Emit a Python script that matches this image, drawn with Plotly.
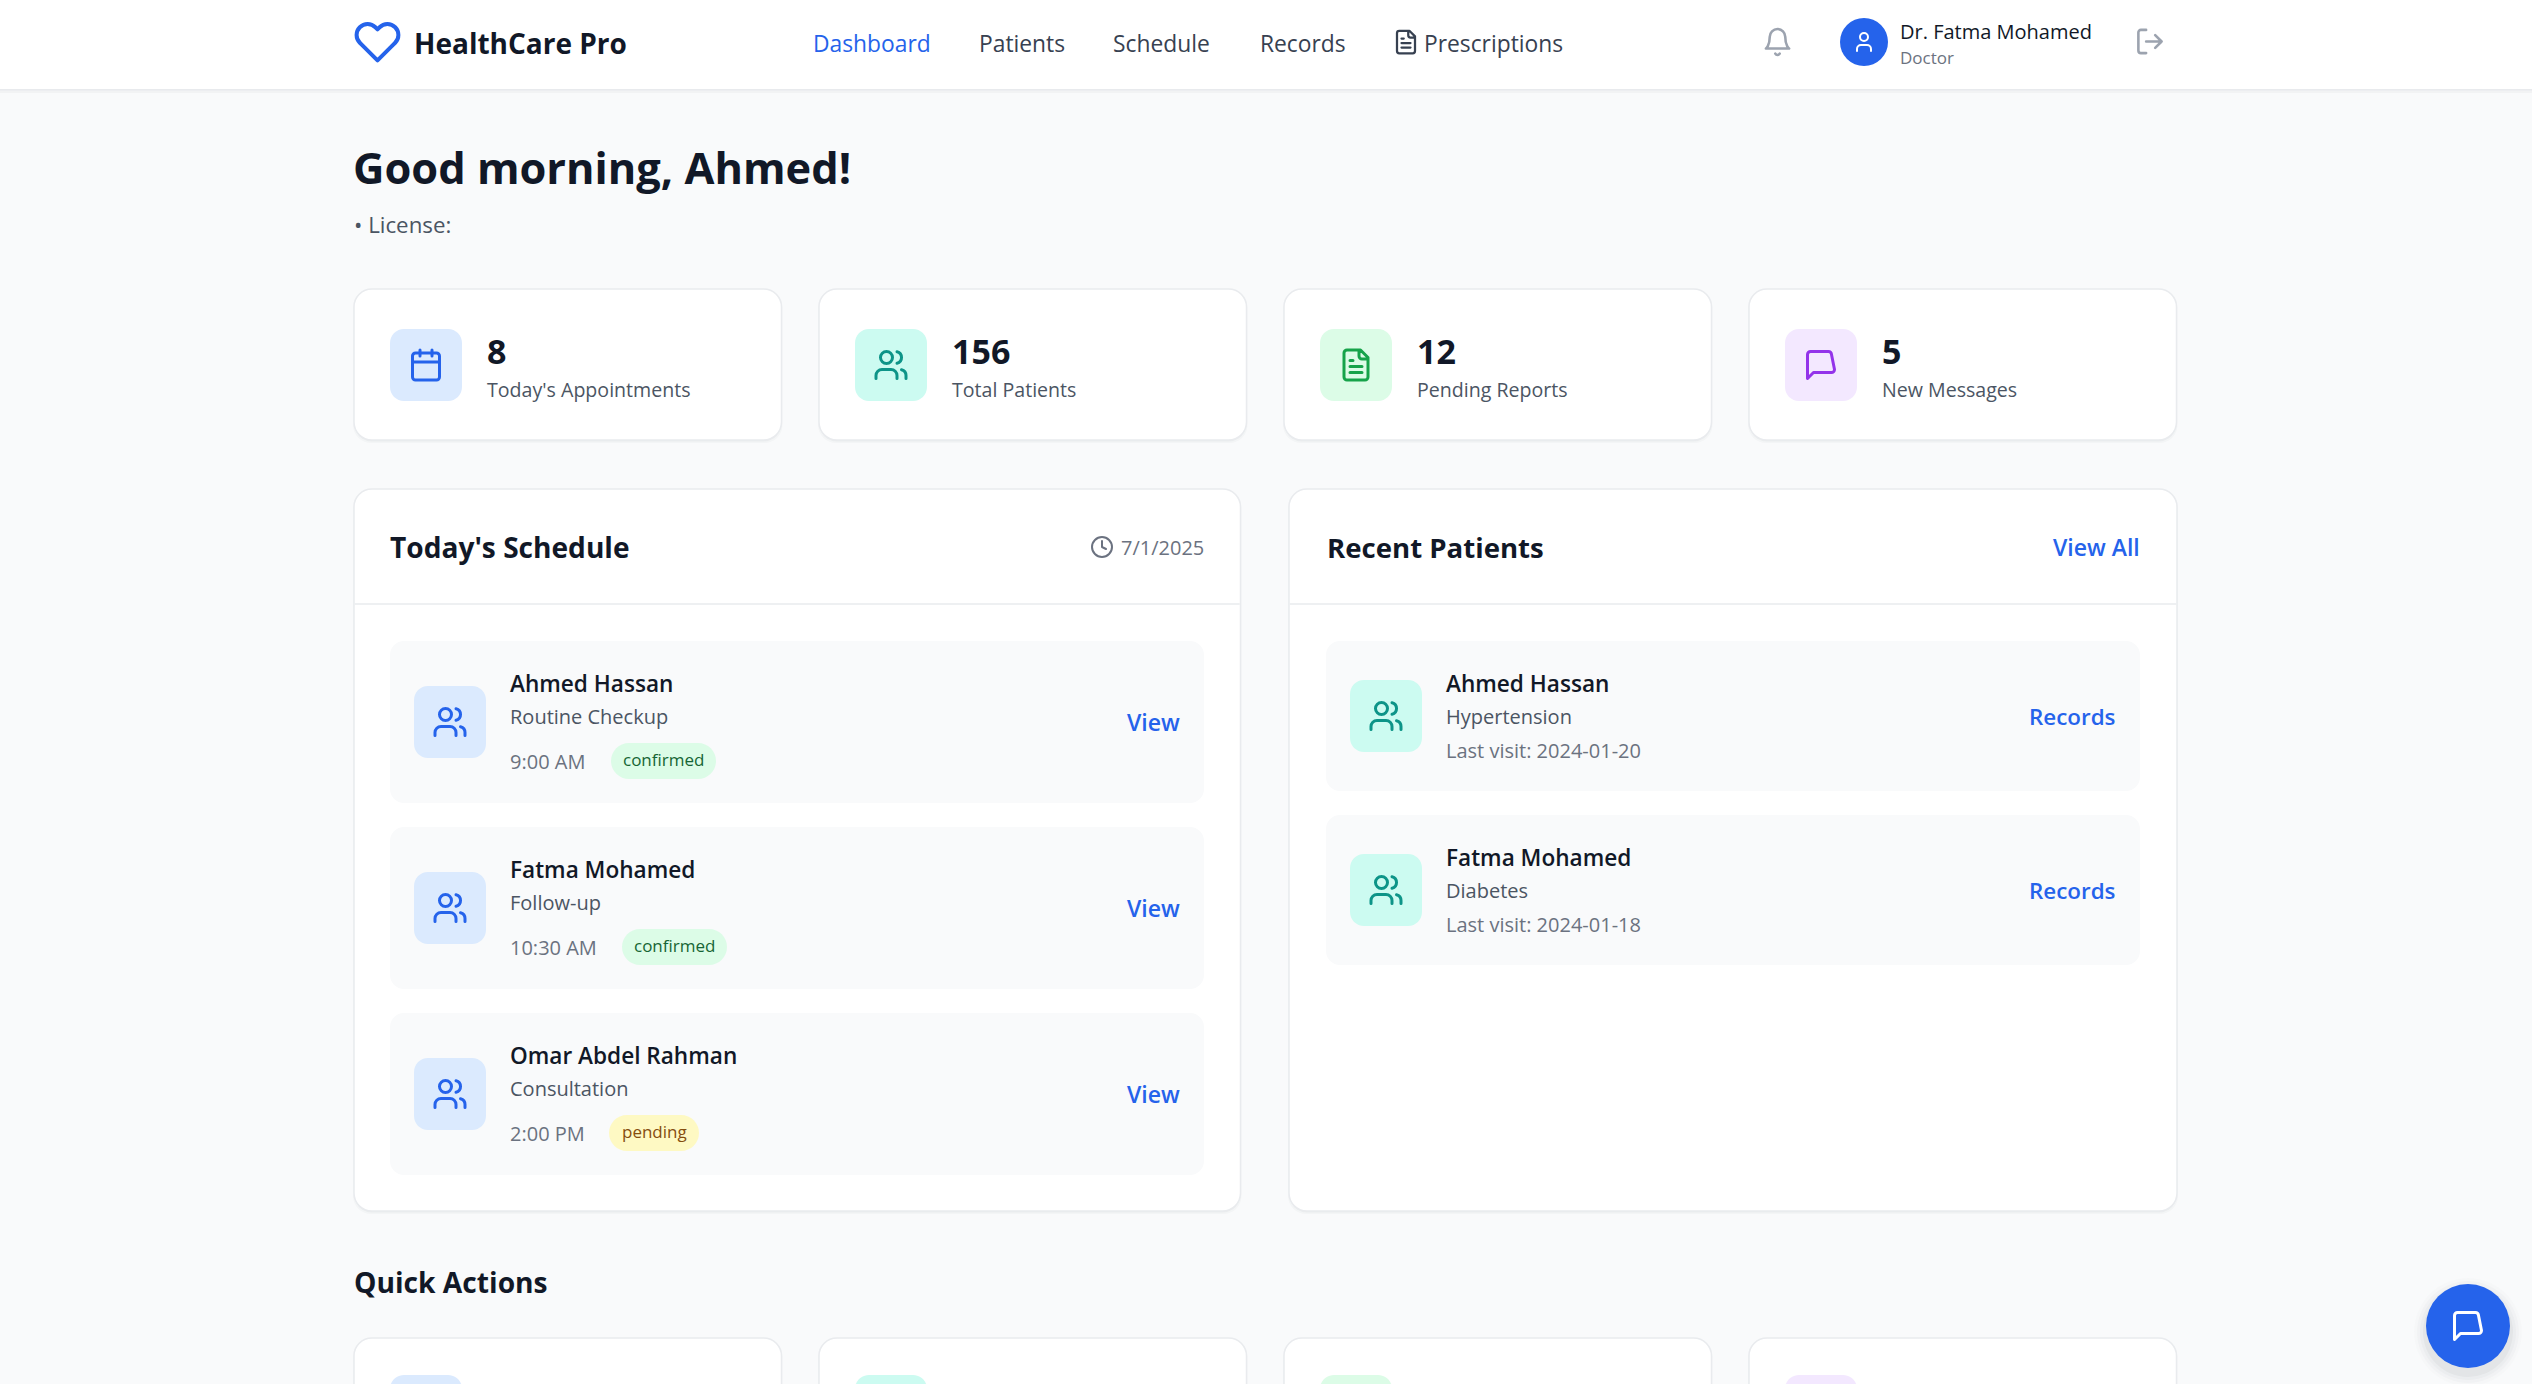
import math, re
import plotly.graph_objects as go

# ---------- content ----------
brand_name = "HealthCare Pro"
nav_items = ["Dashboard", "Patients", "Schedule", "Records", "Prescriptions"]
doctor_name = "Dr. Fatma Mohamed"
doctor_role = "Doctor"
greeting = "Good morning, Ahmed!"
license_line = "• License:"
stat_values = ["8", "156", "12", "5"]
stat_labels = ["Today's Appointments", "Total Patients", "Pending Reports", "New Messages"]
schedule_title = "Today's Schedule"
schedule_date = "7/1/2025"
schedule_names = ["Ahmed Hassan", "Fatma Mohamed", "Omar Abdel Rahman"]
schedule_reasons = ["Routine Checkup", "Follow-up", "Consultation"]
schedule_times = ["9:00 AM", "10:30 AM", "2:00 PM"]
schedule_status = ["confirmed", "confirmed", "pending"]
patients_title = "Recent Patients"
patient_names = ["Ahmed Hassan", "Fatma Mohamed"]
patient_conditions = ["Hypertension", "Diabetes"]
patient_visits = ["Last visit: 2024-01-20", "Last visit: 2024-01-18"]
section_title = "Quick Actions"

# ---------- style ----------
FONT = "Open Sans"
BLUE, DARK, G7, G6, G5, G4 = "#2563eb", "#111827", "#374151", "#4b5563", "#6b7280", "#9ca3af"
BG, BORDER = "#f9fafb", "#e9ebee"
STAT_TILES = ["#dbeafe", "#ccfbf1", "#dcfce7", "#f3e8ff"]
STAT_INKS = ["#2563eb", "#0d9488", "#16a34a", "#9333ea"]
BADGES = {"confirmed": ("#dcfce7", "#166534"), "pending": ("#fef9c3", "#854d0e")}

# ---------- layout geometry ----------
W, H = 2532, 1384
CARD_X = [354, 819, 1284, 1749]
CARD_W = 427.5
BADGE_SPANS = [(611, 716), (622, 727), (609, 699)]

# ---------- lucide icons ----------
def circ(cx, cy, r):
    return f"M{cx-r} {cy}A{r} {r} 0 1 1 {cx+r} {cy}A{r} {r} 0 1 1 {cx-r} {cy}Z"

ICONS = {
    "heart": "M20.84 4.61a5.5 5.5 0 0 0-7.78 0L12 5.67l-1.06-1.06a5.5 5.5 0 0 0-7.78 7.78l1.06 1.06L12 21.23l7.78-7.78 1.06-1.06a5.5 5.5 0 0 0 0-7.78z",
    "bell": "M6 8a6 6 0 0 1 12 0c0 7 3 9 3 9H3s3-2 3-9ZM10.3 21a1.94 1.94 0 0 0 3.4 0",
    "user": "M19 21v-2a4 4 0 0 0-4-4H9a4 4 0 0 0-4 4v2" + circ(12, 7, 4),
    "users": "M16 21v-2a4 4 0 0 0-4-4H6a4 4 0 0 0-4 4v2" + circ(9, 7, 4) + "M22 21v-2a4 4 0 0 0-3-3.87M16 3.13a4 4 0 0 1 0 7.75",
    "logout": "M9 21H5a2 2 0 0 1-2-2V5a2 2 0 0 1 2-2h4M16 17L21 12L16 7M21 12H9",
    "calendar": "M8 2v4M16 2v4M5 4h14a2 2 0 0 1 2 2v14a2 2 0 0 1-2 2H5a2 2 0 0 1-2-2V6a2 2 0 0 1 2-2ZM3 10h18",
    "file": "M15 2H6a2 2 0 0 0-2 2v16a2 2 0 0 0 2 2h12a2 2 0 0 0 2-2V7ZM14 2v4a2 2 0 0 0 2 2h4M10 9H8M16 13H8M16 17H8",
    "message": "M21 15a2 2 0 0 1-2 2H7l-4 4V5a2 2 0 0 1 2-2h12a2 2 0 0 1 2 2z",
    "clock": circ(12, 12, 10) + "M12 6L12 12L16 14",
}

def arc_to_beziers(x1, y1, r, large, sweep, x2, y2):
    dx, dy = (x1 - x2) / 2, (y1 - y2) / 2
    d2 = dx * dx + dy * dy
    if d2 == 0:
        return []
    r = max(r, math.sqrt(d2))
    k = math.sqrt(max(0, r * r - d2) / d2)
    if large == sweep:
        k = -k
    cxp, cyp = k * dy, -k * dx
    cx, cy = cxp + (x1 + x2) / 2, cyp + (y1 + y2) / 2
    a1 = math.atan2(y1 - cy, x1 - cx)
    a2 = math.atan2(y2 - cy, x2 - cx)
    da = a2 - a1
    if sweep and da < 0:
        da += 2 * math.pi
    if not sweep and da > 0:
        da -= 2 * math.pi
    n = max(1, math.ceil(abs(da) / (math.pi / 2) - 1e-9))
    out, step = [], da / n
    t = 4 / 3 * math.tan(step / 4)
    for i in range(n):
        a, b = a1 + i * step, a1 + (i + 1) * step
        out.append((cx + r * (math.cos(a) - t * math.sin(a)), cy + r * (math.sin(a) + t * math.cos(a)),
                    cx + r * (math.cos(b) + t * math.sin(b)), cy + r * (math.sin(b) - t * math.cos(b)),
                    cx + r * math.cos(b), cy + r * math.sin(b)))
    return out

def normalise(d):
    toks = re.findall(r"[MmLlHhVvCcSsAaZz]|-?\d*\.?\d+", d)
    i, cmd, x, y, sx, sy, out, lc = 0, None, 0.0, 0.0, 0.0, 0.0, [], None
    def num():
        nonlocal i
        v = float(toks[i]); i += 1
        return v
    while i < len(toks):
        if re.match(r"[A-Za-z]", toks[i]):
            cmd = toks[i]; i += 1
        rel = cmd.islower(); c = cmd.upper()
        ox, oy = (x, y) if rel else (0.0, 0.0)
        if c == "Z":
            out.append("Z"); x, y = sx, sy; lc = None
        elif c == "M":
            x, y = ox + num(), oy + num(); sx, sy = x, y
            out.append(("M", x, y)); cmd = "l" if rel else "L"; lc = None
        elif c == "L":
            x, y = ox + num(), oy + num(); out.append(("L", x, y)); lc = None
        elif c == "H":
            x = ox + num(); out.append(("L", x, y)); lc = None
        elif c == "V":
            y = oy + num(); out.append(("L", x, y)); lc = None
        elif c == "C":
            p = [ox + num(), oy + num(), ox + num(), oy + num(), ox + num(), oy + num()]
            out.append(("C", *p)); lc = (p[2], p[3]); x, y = p[4], p[5]
        elif c == "S":
            a = (2 * x - lc[0], 2 * y - lc[1]) if lc else (x, y)
            p = [ox + num(), oy + num(), ox + num(), oy + num()]
            out.append(("C", a[0], a[1], *p)); lc = (p[0], p[1]); x, y = p[2], p[3]
        elif c == "A":
            r = num(); num(); num()
            large = int(num()); sweep = int(num())
            nx, ny = ox + num(), oy + num()
            for b in arc_to_beziers(x, y, r, large, sweep, nx, ny):
                out.append(("C", *b))
            x, y = nx, ny; lc = None
    return out

def to_path(d, cx, cy, size):
    s = size / 24
    parts = []
    for seg in normalise(d):
        if seg == "Z":
            parts.append("Z"); continue
        vals = seg[1:]
        pts = [f"{cx + (vals[j] - 12) * s:.2f},{cy + (vals[j + 1] - 12) * s:.2f}" for j in range(0, len(vals), 2)]
        parts.append(seg[0] + " ".join(pts))
    return " ".join(parts)

# ---------- helpers ----------
shapes, notes = [], []

def rrect(x0, y0, x1, y1, r, fill, line=None, lw=0):
    k = r * 0.4477
    p = (f"M{x0+r},{y0} L{x1-r},{y0} C{x1-k},{y0} {x1},{y0+k} {x1},{y0+r} L{x1},{y1-r} "
         f"C{x1},{y1-k} {x1-k},{y1} {x1-r},{y1} L{x0+r},{y1} C{x0+k},{y1} {x0},{y1-k} {x0},{y1-r} "
         f"L{x0},{y0+r} C{x0},{y0+k} {x0+k},{y0} {x0+r},{y0} Z")
    shapes.append(dict(type="path", path=p, xref="x", yref="y", fillcolor=fill,
                       line=dict(color=line or "rgba(0,0,0,0)", width=lw)))

def card(x0, y0, x1, y1, r=18):
    rrect(x0 - 1, y0, x1 + 1, y1 + 3, r, "rgba(17,24,39,0.025)")
    rrect(x0, y0, x1, y1 + 1.5, r, "rgba(17,24,39,0.035)")
    rrect(x0, y0, x1, y1, r, "#ffffff", BORDER, 1.5)

def icon(name, cx, cy, size, color):
    shapes.append(dict(type="path", path=to_path(ICONS[name], cx, cy, size), xref="x", yref="y",
                       fillcolor="rgba(0,0,0,0)", line=dict(color=color, width=2 * size / 24)))

def label(s, x, y, size, color, weight=400, anchor="left"):
    notes.append(dict(text=s, x=x, y=y, xref="x", yref="y", xanchor=anchor, yanchor="middle",
                      showarrow=False, borderpad=0, borderwidth=0,
                      font=dict(family=FONT, size=size, color=color, weight=weight)))

def rect(x0, y0, x1, y1, fill):
    shapes.append(dict(type="rect", x0=x0, y0=y0, x1=x1, y1=y1, xref="x", yref="y",
                       fillcolor=fill, line=dict(width=0)))

# ---------- page ----------
rect(0, 90, W, 93, "rgba(17,24,39,0.03)")
rect(0, 0, W, 90, "#ffffff")
rect(0, 89, W, 90.5, "#e8eaed")

icon("heart", 377.5, 42, 48, BLUE)
label(brand_name, 413.5, 43, 28, DARK, 700)
nav_x = [813, 979, 1113, 1260, 1424]
for i, (n, x) in enumerate(zip(nav_items, nav_x)):
    label(n, x, 43, 22.8, BLUE if i == 0 else G7, 500)
icon("file", 1406, 42, 27, G7)
icon("bell", 1777.5, 42, 31, G4)
shapes.append(dict(type="circle", x0=1840, y0=18, x1=1888, y1=66, xref="x", yref="y", fillcolor=BLUE, line=dict(width=0)))
icon("user", 1864, 42, 24, "#ffffff")
label(doctor_name, 1900, 31, 20, DARK, 500)
label(doctor_role, 1900, 57, 17, G5)
icon("logout", 2150, 41.5, 31, G4)

label(greeting, 353, 167, 43.4, DARK, 700)
label(license_line, 353.5, 224, 22.3, G6)

stat_icons = ["calendar", "users", "file", "message"]
for i, x in enumerate(CARD_X):
    card(x, 289, x + CARD_W, 440)
    rrect(x + 36, 329, x + 108, 401, 14, STAT_TILES[i])
    icon(stat_icons[i], x + 72, 365, 36, STAT_INKS[i])
    label(stat_values[i], x + 132.5, 351, 34, DARK, 700)
    label(stat_labels[i], x + 132.5, 389, 19.6, G6)

# schedule panel
card(354, 489, 1240.5, 1211)
rect(354.75, 603.25, 1239.75, 604.75, BORDER)
label(schedule_title, 390, 547, 28.1, DARK, 700)
icon("clock", 1102, 547, 24, G5)
label(schedule_date, 1204, 547, 20, G5, anchor="right")
for i in range(3):
    y = 641 + 186 * i
    st = schedule_status[i]
    rrect(390, y, 1204, y + 162, 14, BG)
    rrect(414, y + 45, 486, y + 117, 14, STAT_TILES[0])
    icon("users", 450, y + 81, 36, BLUE)
    label(schedule_names[i], 510, y + 42, 22.6, DARK, 600)
    label(schedule_reasons[i], 510, y + 75, 20, G6)
    label(schedule_times[i], 510, y + 120, 20, G5)
    b0, b1 = BADGE_SPANS[i]
    rrect(b0, y + 102, b1, y + 138, 18, BADGES[st][0])
    label(st, (b0 + b1) / 2, y + 118.5, 17, BADGES[st][1], anchor="center")
    label("View", 1180, y + 81, 23, BLUE, 600, anchor="right")

# patients panel
card(1289, 489, 2177, 1211)
rect(1289.75, 603.25, 2176.25, 604.75, BORDER)
label(patients_title, 1326.5, 547, 27.6, DARK, 700)
label("View All", 2140, 547, 23, BLUE, 600, anchor="right")
for i in range(2):
    y = 641 + 174 * i
    rrect(1326, y, 2140, y + 150, 14, BG)
    rrect(1350, y + 39, 1422, y + 111, 14, STAT_TILES[1])
    icon("users", 1386, y + 75, 36, STAT_INKS[1])
    label(patient_names[i], 1446, y + 42, 22.6, DARK, 600)
    label(patient_conditions[i], 1446, y + 75, 20, G6)
    label(patient_visits[i], 1446, y + 109, 20, G5)
    label("Records", 2116, y + 75, 22.4, BLUE, 600, anchor="right")

# quick actions
label(section_title, 353.5, 1281.5, 28.2, DARK, 700)
for i, x in enumerate(CARD_X):
    card(x, 1338, x + CARD_W, 1500)
    rrect(x + 36, 1375, x + 108, 1447, 14, STAT_TILES[i])

# floating chat button
for grow, alpha in [(12, 0.012), (9, 0.018), (6, 0.025), (3, 0.035)]:
    shapes.append(dict(type="circle", x0=2426 - grow, y0=1284 - grow + 6, x1=2510 + grow, y1=1368 + grow + 6,
                       xref="x", yref="y", fillcolor=f"rgba(17,24,39,{alpha})", line=dict(width=0)))
shapes.append(dict(type="circle", x0=2426, y0=1284, x1=2510, y1=1368, xref="x", yref="y", fillcolor=BLUE, line=dict(width=0)))
icon("message", 2468, 1326, 36, "#ffffff")

fig = go.Figure()
fig.update_layout(
    width=W, height=H, margin=dict(l=0, r=0, t=0, b=0), autosize=False,
    paper_bgcolor=BG, plot_bgcolor=BG, showlegend=False,
    xaxis=dict(range=[0, W], visible=False, fixedrange=True),
    yaxis=dict(range=[H, 0], visible=False, fixedrange=True),
    shapes=shapes, annotations=notes,
)
post = """
var de=document.documentElement,b=document.body;
de.style.margin='0';de.style.height='1384px';de.style.overflow='hidden';
b.style.margin='0';b.style.height='1384px';b.style.background='#f9fafb';b.style.overflow='hidden';
function rnd(){document.querySelectorAll('.shapelayer path').forEach(function(p){p.style.strokeLinecap='round';p.style.strokeLinejoin='round';});}
rnd();setTimeout(rnd,50);
"""
fig.write_html("out.html", config=dict(displayModeBar=False, staticPlot=True), post_script=post)
